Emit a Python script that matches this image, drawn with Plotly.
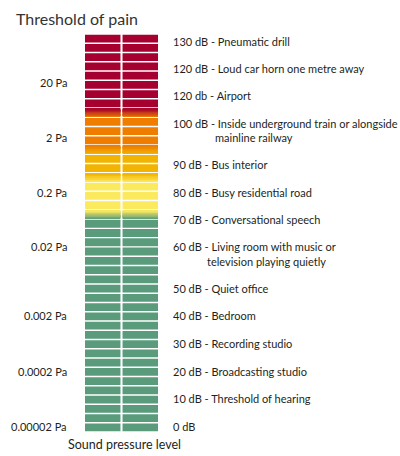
import plotly.graph_objects as go

# colour bands of the meter, listed bottom to top
band_colors = ["#5A9B7C", "#FCEA5E", "#F2B400", "#EE7D00", "#A5002F"]
band_rows = [23, 3, 2, 3, 8]   # solid rows per band; one blended row sits between bands

# right-hand labels (top to bottom)
db_labels = ["130 dB - Pneumatic drill",
             "120 dB - Loud car horn one metre away",
             "120 db - Airport",
             "100 dB - Inside underground train or alongside",
             "90 dB - Bus interior",
             "80 dB - Busy residential road",
             "70 dB - Conversational speech",
             "60 dB - Living room with music or",
             "50 dB - Quiet office",
             "40 dB - Bedroom",
             "30 dB - Recording studio",
             "20 dB - Broadcasting studio",
             "10 dB - Threshold of hearing",
             "0 dB"]
db_second_lines = ["mainline railway", "television playing quietly"]

# left-hand pressure labels (top to bottom)
pa_labels = ["20 Pa", "2 Pa", "0.2 Pa", "0.02 Pa", "0.002 Pa", "0.0002 Pa", "0.00002 Pa"]

title = "Threshold of pain"
x_title = "Sound pressure level"


def hex_rgb(c):
    c = c.lstrip("#")
    return [int(c[i:i + 2], 16) for i in (0, 2, 4)]


def blend(c1, c2, t):
    a, b = hex_rgb(c1), hex_rgb(c2)
    return "rgb({},{},{})".format(*[round(a[i] + (b[i] - a[i]) * t) for i in range(3)])


GAP = 0.16      # white gap between rows, in row units
N_SLICE = 10    # slices used to draw a blended row
cell = 1 - GAP

xs, hs, bases, cols = [], [], [], []
row = 0
for k, n in enumerate(band_rows):
    for _ in range(n):
        for col in (0, 1):
            xs.append(col)
            hs.append(cell)
            bases.append(row + GAP / 2)
            cols.append(band_colors[k])
        row += 1
    if k < len(band_rows) - 1:
        for j in range(N_SLICE):
            c = blend(band_colors[k], band_colors[k + 1], (j + 0.5) / N_SLICE)
            for col in (0, 1):
                xs.append(col)
                hs.append(cell / N_SLICE + (0.03 if j < N_SLICE - 1 else 0))
                bases.append(row + GAP / 2 + j * cell / N_SLICE)
                cols.append(c)
        row += 1
total_rows = row

W = 0.945
fig = go.Figure(go.Bar(x=xs, y=hs, base=bases, width=W,
                       marker=dict(color=cols, line=dict(width=0)),
                       hoverinfo="skip"))

# text positions, in pixels from the top of the 456 px tall picture
db_y = [41, 68, 95, 123, 164, 192, 219, 247, 288, 315, 343, 371, 398, 426]
db_second_y = [137, 261]
db_second_x = [213, 205]
pa_y = [82, 137, 192, 247, 315, 371, 426]

H, WID = 456, 400
FONT = "Lato"
TXT = "#231F20"

ann = []
for t, y in zip(db_labels, db_y):
    ann.append(dict(text=t, x=171 / WID, y=1 - y / H, xanchor="left", yanchor="middle"))
for t, x, y in zip(db_second_lines, db_second_x, db_second_y):
    ann.append(dict(text=t, x=x / WID, y=1 - y / H, xanchor="left", yanchor="middle"))
for t, y in zip(pa_labels, pa_y):
    ann.append(dict(text=t, x=69 / WID, y=1 - y / H, xanchor="right", yanchor="middle"))
for a in ann:
    a.update(xref="paper", yref="paper", showarrow=False,
             font=dict(family=FONT, size=11, color=TXT))

ann.append(dict(text=title, x=14 / WID, y=1 - 18 / H, xref="paper", yref="paper",
                xanchor="left", yanchor="middle", showarrow=False,
                font=dict(family=FONT, size=16, color="#333333")))
ann.append(dict(text=x_title, x=124 / WID, y=1 - 444 / H, xref="paper", yref="paper",
                xanchor="center", yanchor="middle", showarrow=False,
                font=dict(family=FONT, size=12.5, color=TXT)))

fig.update_layout(
    width=WID, height=H,
    margin=dict(l=0, r=0, t=0, b=0),
    paper_bgcolor="white", plot_bgcolor="white",
    barmode="overlay", showlegend=False,
    annotations=ann,
    xaxis=dict(domain=[85 / WID, 158 / WID], range=[-W / 2, 1 + W / 2],
               visible=False, fixedrange=True),
    yaxis=dict(domain=[1 - 432 / H, 1 - 34 / H], range=[0, total_rows],
               visible=False, fixedrange=True),
)

# drop the page's default body margin so the figure sits at the window corner
fig.write_html("out.html", config={"displayModeBar": False},
               post_script="document.body.style.margin='0';")
